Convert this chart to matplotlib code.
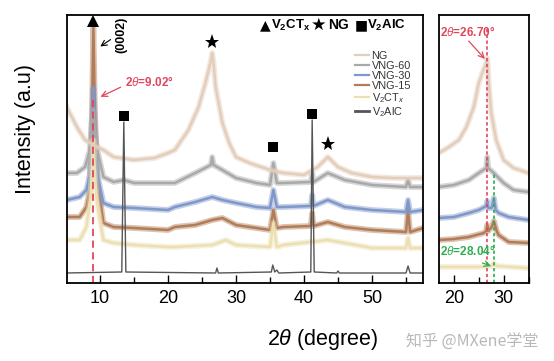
import matplotlib
matplotlib.use("Agg")
import matplotlib.pyplot as plt
from matplotlib.ticker import MultipleLocator

plt.rcParams["font.family"] = ["Liberation Sans", "DejaVu Sans"]
plt.rcParams["mathtext.fontset"] = "custom"
plt.rcParams["mathtext.rm"] = "Liberation Sans"
plt.rcParams["mathtext.it"] = "Liberation Sans:italic"
plt.rcParams["mathtext.bf"] = "Liberation Sans:bold"

# ---- main panel, 2theta vs offset intensity (a.u.) ----
ng_x = [5.1, 6.6, 7.8, 9.0, 10.5, 12, 15, 18, 20, 21, 23, 24.5, 25.5, 26.3, 26.5, 26.7,
        27, 28, 29, 30, 32, 35, 37, 40, 42, 43.5, 45, 47, 50, 53, 57.5]
ng_y = [176, 156, 143, 138, 133, 126, 123, 125, 130, 133, 153, 176, 200, 222, 230, 220,
        196, 160, 140, 126, 120, 113, 110, 108, 116, 126, 116, 110, 106, 105, 105]

vng60_x = [5.1, 6.6, 7.8, 8.5, 8.8, 9.02, 9.25, 9.6, 10.5, 12, 13.5, 15, 20, 21, 24, 26.3,
           26.5, 26.7, 28, 30, 33, 35, 35.5, 36, 37, 41.0, 41.2, 41.4, 43.5, 46, 50, 55,
           55.3, 55.6, 57.5]
vng60_y = [110, 110, 116, 133, 163, 173, 153, 133, 106, 101, 103, 100, 100, 100, 110, 118,
           126, 118, 113, 105, 100, 98, 120, 100, 100, 101, 110, 101, 110, 103, 98, 96,
           103, 96, 96]

vng30_x = [5.1, 7, 8, 8.5, 8.8, 9.02, 9.25, 9.6, 10.5, 12, 15, 20, 21, 24, 26.5, 28, 30,
           33, 35, 35.5, 36, 37, 41.0, 41.2, 41.4, 43.5, 46, 50, 55, 55.3, 55.6, 57.5]
vng30_y = [83, 86, 93, 108, 143, 195, 150, 108, 80, 76, 75, 73, 76, 81, 86, 83, 80,
           76, 75, 93, 76, 76, 77, 88, 77, 83, 76, 73, 71, 83, 71, 73]

vng15_x = [5.1, 7, 8, 8.5, 8.8, 9.02, 9.25, 9.6, 10.5, 12, 15, 20, 21, 24, 26.5, 28, 30,
           33, 35, 35.5, 36, 37, 41.0, 41.2, 41.4, 43.5, 46, 50, 55, 55.3, 55.6, 57.5]
vng15_y = [66, 66, 76, 93, 163, 255, 173, 103, 60, 56, 55, 53, 56, 58, 63, 65, 58,
           55, 53, 73, 55, 56, 57, 70, 57, 61, 56, 53, 51, 73, 51, 55]

v2ctx_x = [5.1, 7, 8, 8.6, 8.85, 9.02, 9.2, 9.5, 10.5, 12, 15, 20, 21, 26.5, 28.5, 30,
           35, 35.5, 36, 37, 43.5, 50, 55, 55.3, 55.6, 57.5]
v2ctx_y = [43, 43, 56, 86, 123, 143, 118, 83, 43, 40, 38, 36, 36, 38, 43, 38,
           36, 60, 36, 38, 43, 35, 35, 45, 35, 35]

v2alc_x = [5, 13.2, 13.5, 13.8, 27.0, 27.2, 27.4, 35.2, 35.4, 35.7, 36.0, 36.3, 41.0,
           41.2, 41.5, 44.8, 45.0, 45.2, 55.0, 55.3, 55.6, 57.5]
v2alc_y = [10, 11, 161, 11, 10, 15, 10, 11, 18, 11, 13, 10, 11,
           163, 11, 10, 12, 10, 10, 17, 10, 10]

# ---- right (zoomed) panel ----
ng_zx = [17, 19, 21, 22.5, 24, 25, 26, 26.4, 26.7, 27.0, 27.5, 28.5, 30, 32, 35]
ng_zy = [130, 136, 143, 156, 176, 200, 214, 218, 225, 200, 170, 143, 123, 115, 110]
vng60_zx = [17, 20, 23, 25, 26.5, 26.7, 26.9, 28, 30, 32, 35]
vng60_zy = [96, 98, 103, 110, 115, 126, 115, 110, 100, 93, 91]
vng30_zx = [17, 20, 23, 25, 26.5, 26.7, 26.9, 27.6, 28.04, 28.4, 29, 31, 35]
vng30_zy = [65, 66, 70, 73, 77, 82, 75, 75, 85, 73, 70, 66, 63]
vng15_zx = [17, 20, 23, 26, 26.5, 26.7, 26.9, 27.6, 28.04, 28.6, 29, 31, 35]
vng15_zy = [43, 44, 46, 50, 52, 58, 52, 56, 62, 52, 48, 41, 40]
v2ctx_zx = [17, 20, 25, 27.6, 28.04, 28.5, 35]
v2ctx_zy = [16, 16, 16, 17, 20, 17, 15]

labels = ["NG", "VNG-60", "VNG-30", "VNG-15", r"V$_2$CT$_x$", r"V$_2$AlC"]
colors = ["#e3cdbb", "#a9a9a9", "#7f98c9", "#b27c58", "#ece0b2", "#555555"]

W, H = 554, 361
fig = plt.figure(figsize=(W / 100, H / 100), dpi=100)
ax = fig.add_axes([66.7 / W, 1 - 283 / H, 356.3 / W, 268 / H])
az = fig.add_axes([439 / W, 1 - 283 / H, 90 / W, 268 / H])


def px(x, y):
    """pixel position (from top-left) -> figure fraction"""
    return x / W, 1 - y / H


def band(a, x, y, c):
    # noisy XRD trace look: soft wide halo + solid core
    a.plot(x, y, color=c, lw=4.2, alpha=0.45, solid_joinstyle="round")
    a.plot(x, y, color=c, lw=1.8)


main = [(ng_x, ng_y), (vng60_x, vng60_y), (vng30_x, vng30_y), (vng15_x, vng15_y),
        (v2ctx_x, v2ctx_y), (v2alc_x, v2alc_y)]
zoom = [(ng_zx, ng_zy), (vng60_zx, vng60_zy), (vng30_zx, vng30_zy),
        (vng15_zx, vng15_zy), (v2ctx_zx, v2ctx_zy)]

for i in [3, 2, 1, 4, 0]:
    band(ax, *main[i], colors[i])
ax.plot(*main[5], color=colors[5], lw=1.0)
for i in [3, 2, 1, 4, 0]:
    band(az, *zoom[i], colors[i])

red = "#e0465c"
green = "#2fae4e"

# peak markers
ax.plot(9.02, 262, marker="^", color="k", ms=8, mew=0)
ax.plot([13.5, 35.4, 41.2], [167, 136, 169], "s", color="k", ms=6.5, mew=0)
ax.plot([26.5, 43.5], [241, 139], "*", color="k", ms=11, mew=0)

# marker key along the top
sym = dict(family=["DejaVu Sans"], ha="center", va="center")
fig.text(*px(265, 25), "▲", fontsize=10, **sym)
fig.text(*px(271, 25), r"$\mathbf{V_2CT_x}$", fontsize=9.5, ha="left", va="center")
fig.text(*px(319, 25), "★", fontsize=12.5, **sym)
fig.text(*px(328, 25), "NG", fontsize=10, fontweight="bold", ha="left", va="center")
fig.text(*px(361, 25), "■", fontsize=10, **sym)
fig.text(*px(367, 25), r"$\mathbf{V_2AlC}$", fontsize=9.5, ha="left", va="center")

ax.text(13.2, 248, "(0002)", rotation=90, fontsize=9, fontweight="bold",
        ha="center", va="center")
ax.annotate("", xy=(9.7, 235), xytext=(11.9, 245),
            arrowprops=dict(arrowstyle="->", color="k", lw=0.8))

ax.vlines(9.02, 0, 186, colors=red, linestyles=(0, (4, 2.5)), lw=1.3)
ax.text(13.7, 201, r"2$\theta$=9.02°", color=red, fontsize=8.5, fontweight="bold",
        ha="left", va="center")
ax.annotate("", xy=(9.7, 185), xytext=(13.4, 197),
            arrowprops=dict(arrowstyle="->", color=red, lw=0.9))

leg = ax.legend([plt.Line2D([], [], color=c, lw=2.0 if i == 5 else 1.6)
                 for i, c in enumerate(colors)], labels,
                loc="upper left", bbox_to_anchor=(0.81, 0.865),
                frameon=False, fontsize=7.8, labelspacing=0.0, handlelength=1.25,
                handletextpad=0.25, borderaxespad=0, borderpad=0)
for t in leg.get_texts():
    t.set_color("#333333")

# right panel annotations
az.vlines(26.70, 0, 255, colors=red, linestyles=(0, (2, 1.5)), lw=1.2)
az.vlines(28.04, 0, 111, colors=green, linestyles=(0, (2, 1.5)), lw=1.2)
az.text(17.3, 251, r"2$\theta$=26.70°", color=red, fontsize=8.5, fontweight="bold",
        ha="left", va="center")
az.annotate("", xy=(26.6, 222), xytext=(22.6, 244),
            arrowprops=dict(arrowstyle="->", color=red, lw=0.9))
az.text(17.2, 32, r"2$\theta$=28.04°", color=green, fontsize=8.5, fontweight="bold",
        ha="left", va="center")
az.annotate("", xy=(28.0, 16), xytext=(25.2, 21),
            arrowprops=dict(arrowstyle="->", color=green, lw=0.9))

ax.set_xlim(5.1, 57.5)
az.set_xlim(17, 35.1)
for a in (ax, az):
    a.set_ylim(0, 268)
    a.set_yticks([])
    a.tick_params(axis="x", which="both", direction="in", labelsize=13, pad=5,
                  top=False, width=1.0)
    a.tick_params(axis="x", which="major", length=6)
    a.tick_params(axis="x", which="minor", length=4)
    a.xaxis.set_major_locator(MultipleLocator(10))
    a.xaxis.set_minor_locator(MultipleLocator(5))
    for s in a.spines.values():
        s.set_linewidth(1.3)

fig.text(*px(323, 340), r"2$\theta$ (degree)", fontsize=15.5, ha="center", va="center")
fig.text(*px(25, 129), "Intensity (a.u)", fontsize=15.5, rotation=90,
         ha="center", va="center")
fig.text(*px(472, 342), "知乎 @MXene学堂", fontsize=11.5, color="#b8b8b8",
         ha="center", va="center", family=["Noto Sans CJK SC", "DejaVu Sans"])

fig.savefig("out.png", dpi=100)
